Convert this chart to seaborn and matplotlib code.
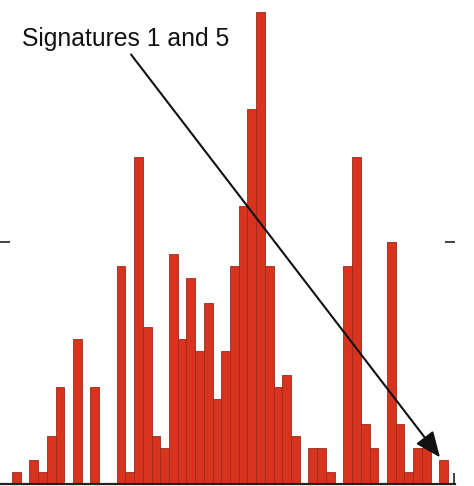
import matplotlib
matplotlib.use("Agg")
import matplotlib.pyplot as plt
import seaborn as sns
import pandas as pd

# Counts per bin
bins = [str(i) for i in range(1, 51)]
counts = [1, 0, 2, 1, 4, 8, 0, 12, 0, 8,
          0, 0, 18, 1, 27, 13, 4, 3, 19, 12,
          17, 11, 15, 7, 11, 18, 23, 31, 39, 18,
          8, 9, 4, 0, 3, 3, 1, 0, 18, 27,
          5, 3, 0, 20, 5, 1, 3, 3, 0, 2]
annotation_text = "Signatures 1 and 5"

df = pd.DataFrame({"bin": bins, "count": counts})

sns.set_theme(style="white")
plt.rcParams['font.family'] = ['Liberation Sans', 'DejaVu Sans']

W, H = 474, 486
fig = plt.figure(figsize=(W / 100, H / 100), dpi=100)
ax = fig.add_axes([0, 2 / H, 455 / W, 484 / H])

sns.barplot(data=df, x="bin", y="count", color="#d8331f", saturation=1,
            width=1.0, edgecolor="#9a2c1e", linewidth=0.6, ax=ax)

bw = 8.72
ax.set_xlim(-0.5 - 12 / bw, -0.5 + (455 - 12) / bw)
ax.set_ylim(0, 40)

for s in ["left", "right", "top"]:
    ax.spines[s].set_visible(False)
ax.spines["bottom"].set_color("#222222")
ax.spines["bottom"].set_linewidth(1.6)

ax.set_xlabel("")
ax.set_ylabel("")
ax.set_yticks([20])
ax.set_xticks([ax.get_xlim()[1] - 0.08])
ax.tick_params(axis="y", direction="in", length=7, width=1.2, color="#222222",
               left=True, right=True, labelleft=False, labelright=False)
ax.tick_params(axis="x", direction="in", length=8, width=1.2, color="#222222",
               bottom=True, labelbottom=False)

ax.text(-0.5 + (22 - 12) / bw, 36.75, annotation_text, fontsize=17.8,
        color="#111111", ha="left", va="center")
ax.annotate("", xy=(-0.5 + (440 - 12) / bw, 2.2),
            xytext=(-0.5 + (131 - 12) / bw, 35.5),
            arrowprops=dict(arrowstyle="-|>,head_length=1.3,head_width=0.55",
                            color="#111111", lw=1.5, shrinkA=0, shrinkB=0))

fig.savefig("out.png", dpi=100)
